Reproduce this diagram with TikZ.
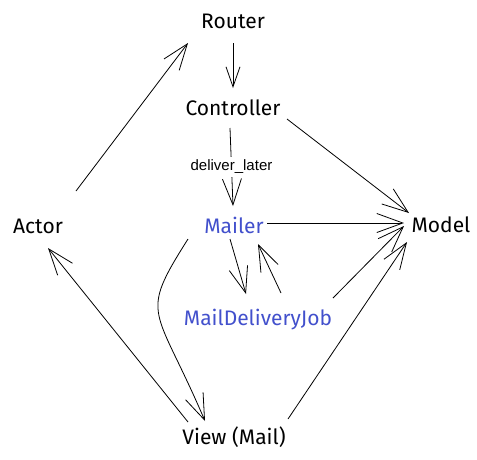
\documentclass[tikz,border=0pt]{standalone}
\usepackage{fontspec}
\setmainfont{Fira Sans}
\newfontfamily\labelfont{Liberation Sans}
\usetikzlibrary{arrows.meta}
\definecolor{mailblue}{RGB}{66,80,204}
\tikzset{
  box/.style={font=\fontsize{21}{23}\selectfont, inner sep=0pt},
  mailbox/.style={box, text=mailblue},
  arr/.style={line width=0.8pt, -{Straight Barb[length=26pt,width=19pt,line width=0.8pt]}},
  shortarr/.style={line width=0.8pt, -{Straight Barb[length=20pt,width=14pt,line width=0.8pt]}}
}
\begin{document}
\begin{tikzpicture}[x=1pt,y=-1pt]
            \useasboundingbox (0,0) rectangle (477,459);
            \node[box] (router) at (233,21) {Router};
            \node[box] (controller) at (233,108) {Controller};
            \node[mailbox] (mailer) at (234,225) {Mailer};
            \node[mailbox] (job) at (258,320) {MailDeliveryJob};
            \node[box] (actor) at (38,226) {Actor};
            \node[box] (model) at (441,225) {Model};
            \node[box] (view) at (234,437) {View (Mail)};
            \path [arr] ([shift={(38,-35)}]actor.center) edge ([shift={(-45,22)}]router.center);
            \path [shortarr] ([shift={(0,22)}]router.center) edge ([shift={(0,-20)}]controller.center);
            \path [arr] ([shift={(-3,20)}]controller.center) edge node[fill=white, inner sep=3pt, font=\labelfont\fontsize{15}{16}\selectfont] (deliver) {deliver\_later} ([shift={(-1,-19)}]mailer.center);
            \path [arr] ([shift={(54,11)}]controller.center) edge ([shift={(-32,-12)}]model.center);
            \path [arr] ([shift={(33,-2)}]mailer.center) edge ([shift={(-37,-2)}]model.center);
            \path [arr] ([shift={(-4,14)}]mailer.center) edge ([shift={(-12,-26)}]job.center);
            \path [arr] ([shift={(23,-27)}]job.center) edge ([shift={(24,19)}]mailer.center);
            \path [arr] ([shift={(75,-22)}]job.center) edge ([shift={(-37,1)}]model.center);
            \draw [arr] ([shift={(-46,14)}]mailer.center) .. controls (138,318) and (155,304) .. ([shift={(-29,-16)}]view.center);
            \path [arr] ([shift={(-46,-15)}]view.center) edge ([shift={(10,22)}]actor.center);
            \path [arr] ([shift={(54,-18)}]view.center) edge ([shift={(-34,17)}]model.center);
        \end{tikzpicture}
\end{document}
